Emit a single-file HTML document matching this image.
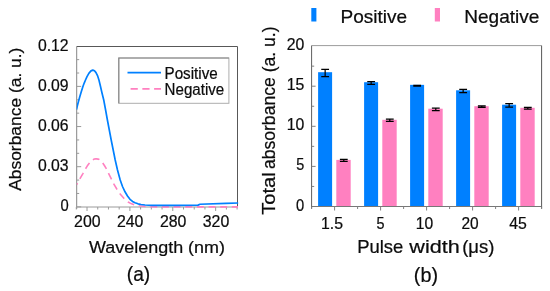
<!DOCTYPE html>
<html lang="en"><head><meta charset="utf-8"><title>Absorbance figure</title>
<style>
html,body{margin:0;padding:0;background:#fff;}
body{width:550px;height:291px;overflow:hidden;}
svg{display:block;}
text{font-family:"Liberation Sans",sans-serif;fill:#0c0c0c;stroke:#0c0c0c;stroke-width:0.22px;}
</style></head><body>
<svg width="550" height="291" viewBox="0 0 550 291">
<rect width="550" height="291" fill="#fff"/>

<clipPath id="ca"><rect x="76.7" y="46.5" width="161.8" height="162.0"/></clipPath>
<path d="M76.7,46.5 V209" fill="none" stroke="#858585" stroke-width="1"/>
<path d="M76.7,207 H237.5" fill="none" stroke="#9a9a9a" stroke-width="1"/>
<path d="M76.7,46.5 H237.5 V207" fill="none" stroke="#585858" stroke-width="1"/>
<path d="M76.7,206.85 h4.5 M76.7,193.47 h2.5 M76.7,180.08 h2.5 M76.7,166.70 h4.5 M76.7,153.32 h2.5 M76.7,139.94 h2.5 M76.7,126.55 h4.5 M76.7,113.17 h2.5 M76.7,99.79 h2.5 M76.7,86.40 h4.5 M76.7,73.02 h2.5 M76.7,59.64 h2.5 M76.30,207 v2.5 M87.02,207 v4 M97.74,207 v2.5 M108.46,207 v2.5 M119.18,207 v2.5 M129.90,207 v4 M140.62,207 v2.5 M151.34,207 v2.5 M162.06,207 v2.5 M172.78,207 v4 M183.50,207 v2.5 M194.22,207 v2.5 M204.94,207 v2.5 M215.66,207 v4 M226.38,207 v2.5 M237.10,207 v2.5" fill="none" stroke="#9a9a9a" stroke-width="1"/>
<g clip-path="url(#ca)" fill="none" stroke-linejoin="round">
<path d="M76.70,184.50 L78.00,182.20 L79.50,179.50 L81.00,176.90 L82.90,173.60 L84.20,171.20 L85.50,168.80 L87.20,166.10 L89.07,163.60 L90.80,161.50 L92.66,160.00 L94.30,159.00 L96.10,158.70 L98.00,159.10 L98.90,159.30 L100.70,160.80 L102.50,162.70 L104.40,165.50 L106.30,168.60 L108.40,173.10 L111.20,178.70 L113.50,183.50 L116.80,189.00 L119.70,193.50 L124.10,198.50 L128.10,202.00 L131.00,203.60 L134.40,204.80 L139.50,205.80 L145.40,206.50 L151.00,206.80 L160.00,206.90 L238.00,206.90" stroke="#FF80C0" stroke-width="1.6" stroke-dasharray="6.9 4.75" stroke-dashoffset="5.20"/>
<path d="M76.50,109.50 L77.30,106.00 L78.60,101.00 L80.00,96.00 L81.50,91.00 L83.10,86.00 L84.30,82.80 L85.50,80.00 L87.00,76.60 L89.00,73.10 L91.00,70.90 L92.80,70.10 L94.50,70.80 L96.00,72.60 L97.50,75.60 L98.95,80.00 L100.40,86.00 L102.00,93.00 L103.74,100.00 L105.60,110.00 L107.40,120.00 L109.30,130.00 L111.20,140.00 L113.20,150.00 L115.20,160.00 L117.50,170.00 L120.20,180.00 L122.50,186.50 L125.00,191.80 L127.50,196.00 L130.00,199.30 L132.50,201.40 L135.00,202.70 L138.00,203.80 L141.00,204.50 L145.00,205.00 L152.00,205.35 L175.00,205.30 L198.00,205.10 L200.00,204.25 L226.00,203.40 L238.30,203.00" stroke="#0080FF" stroke-width="1.7"/>
</g>
<text x="68.6" y="50.6" font-size="16.1" text-anchor="end" textLength="30.7" lengthAdjust="spacingAndGlyphs">0.12</text>
<text x="68.6" y="90.6" font-size="16.1" text-anchor="end" textLength="30.7" lengthAdjust="spacingAndGlyphs">0.09</text>
<text x="68.6" y="130.6" font-size="16.1" text-anchor="end" textLength="30.7" lengthAdjust="spacingAndGlyphs">0.06</text>
<text x="68.6" y="170.6" font-size="16.1" text-anchor="end" textLength="30.7" lengthAdjust="spacingAndGlyphs">0.03</text>
<text x="68.6" y="210.8" font-size="16.1" text-anchor="end" textLength="8.2" lengthAdjust="spacingAndGlyphs">0</text>
<text x="87.3" y="226.9" font-size="16.1" text-anchor="middle" textLength="26.5" lengthAdjust="spacingAndGlyphs">200</text>
<text x="130.2" y="226.9" font-size="16.1" text-anchor="middle" textLength="26.5" lengthAdjust="spacingAndGlyphs">240</text>
<text x="173.2" y="226.9" font-size="16.1" text-anchor="middle" textLength="26.5" lengthAdjust="spacingAndGlyphs">280</text>
<text x="216" y="226.9" font-size="16.1" text-anchor="middle" textLength="26.5" lengthAdjust="spacingAndGlyphs">320</text>
<text x="89" y="252.6" font-size="17.1" text-anchor="start" textLength="136" lengthAdjust="spacingAndGlyphs">Wavelength (nm)</text>
<text x="126.8" y="280.5" font-size="20.5" text-anchor="start" textLength="23.4" lengthAdjust="spacingAndGlyphs">(a)</text>
<text transform="translate(21.2,190.8) rotate(-90)" font-size="17.3" textLength="143.2" lengthAdjust="spacingAndGlyphs">Absorbance (a. u.)</text>
<rect x="118.8" y="58" width="110.1" height="45.3" fill="#fff" stroke="#adadad" stroke-width="1"/>
<path d="M118.8,103.3 V58 H228.9" fill="none" stroke="#858585" stroke-width="1.1"/>
<path d="M127.5,72.7 H161" stroke="#0080FF" stroke-width="1.8"/>
<path d="M130.6,88.9 H161" stroke="#FF80C0" stroke-width="1.6" stroke-dasharray="7.2 4.55"/>
<text x="164.5" y="78.6" font-size="16" text-anchor="start" textLength="53.2" lengthAdjust="spacingAndGlyphs">Positive</text>
<text x="164.6" y="94.6" font-size="16" text-anchor="start" textLength="59.6" lengthAdjust="spacingAndGlyphs">Negative</text>
<rect x="318.1" y="72.2" width="14" height="134.30" fill="#0080FF"/>
<rect x="336.3" y="159.9" width="14.4" height="46.60" fill="#FF80C0"/>
<path d="M321.25,69.4 h7.8 M321.25,76.5 h7.8 M325.15,69.4 V76.5" stroke="#000" stroke-width="1.25" fill="none"/>
<path d="M339.90,159.4 h7.8 M339.90,161.3 h7.8 M343.80,159.4 V161.3" stroke="#000" stroke-width="1.25" fill="none"/>
<rect x="364.1" y="82.2" width="14" height="124.30" fill="#0080FF"/>
<rect x="382.3" y="119.8" width="14.4" height="86.70" fill="#FF80C0"/>
<path d="M367.25,81.6 h7.8 M367.25,84.4 h7.8 M371.15,81.6 V84.4" stroke="#000" stroke-width="1.25" fill="none"/>
<path d="M385.90,119.1 h7.8 M385.90,121.3 h7.8 M389.80,119.1 V121.3" stroke="#000" stroke-width="1.25" fill="none"/>
<rect x="410.1" y="84.85" width="14" height="121.65" fill="#0080FF"/>
<rect x="428.3" y="108.7" width="14.4" height="97.80" fill="#FF80C0"/>
<path d="M413.25,85.4 h7.8 M413.25,86.2 h7.8 M417.15,85.4 V86.2" stroke="#000" stroke-width="1.25" fill="none"/>
<path d="M431.90,108.0 h7.8 M431.90,110.6 h7.8 M435.80,108.0 V110.6" stroke="#000" stroke-width="1.25" fill="none"/>
<rect x="456.1" y="90.3" width="14" height="116.20" fill="#0080FF"/>
<rect x="474.3" y="106.2" width="14.4" height="100.30" fill="#FF80C0"/>
<path d="M459.25,89.3 h7.8 M459.25,92.5 h7.8 M463.15,89.3 V92.5" stroke="#000" stroke-width="1.25" fill="none"/>
<path d="M477.90,105.9 h7.8 M477.90,107.3 h7.8 M481.80,105.9 V107.3" stroke="#000" stroke-width="1.25" fill="none"/>
<rect x="502.1" y="104.7" width="14" height="101.80" fill="#0080FF"/>
<rect x="520.3" y="107.8" width="14.4" height="98.70" fill="#FF80C0"/>
<path d="M505.25,103.7 h7.8 M505.25,107.0 h7.8 M509.15,103.7 V107.0" stroke="#000" stroke-width="1.25" fill="none"/>
<path d="M523.90,107.3 h7.8 M523.90,109.2 h7.8 M527.80,107.3 V109.2" stroke="#000" stroke-width="1.25" fill="none"/>
<path d="M311.6,45.6 H541.6" fill="none" stroke="#9c9c9c" stroke-width="1"/>
<path d="M311.6,206.5 H541.6" fill="none" stroke="#777" stroke-width="1"/>
<path d="M311.6,45.6 V208.5" fill="none" stroke="#5e5e5e" stroke-width="1"/>
<path d="M541.6,45.6 V208.5" fill="none" stroke="#585858" stroke-width="1"/>
<path d="M311.6,186.45 h2.6 M311.6,166.40 h4.0 M311.6,146.35 h2.6 M311.6,126.30 h4.0 M311.6,106.25 h2.6 M311.6,86.20 h4.0 M311.6,66.15 h2.6 M311.60,206.5 v2.5 M334.60,206.5 v4 M357.60,206.5 v2.5 M380.60,206.5 v4 M403.60,206.5 v2.5 M426.60,206.5 v4 M449.60,206.5 v2.5 M472.60,206.5 v4 M495.60,206.5 v2.5 M518.60,206.5 v4 M541.60,206.5 v2.5" fill="none" stroke="#808080" stroke-width="1"/>
<text x="304.3" y="49.8" font-size="16.1" text-anchor="end" textLength="17.6" lengthAdjust="spacingAndGlyphs">20</text>
<text x="304.3" y="89.9" font-size="16.1" text-anchor="end" textLength="17.6" lengthAdjust="spacingAndGlyphs">15</text>
<text x="304.3" y="130.0" font-size="16.1" text-anchor="end" textLength="17.6" lengthAdjust="spacingAndGlyphs">10</text>
<text x="304.3" y="170.2" font-size="16.1" text-anchor="end" textLength="8.0" lengthAdjust="spacingAndGlyphs">5</text>
<text x="304.3" y="210.6" font-size="16.1" text-anchor="end" textLength="8.2" lengthAdjust="spacingAndGlyphs">0</text>
<text x="332" y="229.3" font-size="16.1" text-anchor="middle" textLength="22" lengthAdjust="spacingAndGlyphs">1.5</text>
<text x="380.4" y="229.3" font-size="16.1" text-anchor="middle" textLength="8.0" lengthAdjust="spacingAndGlyphs">5</text>
<text x="424.4" y="229.3" font-size="16.1" text-anchor="middle" textLength="17.4" lengthAdjust="spacingAndGlyphs">10</text>
<text x="470" y="229.3" font-size="16.1" text-anchor="middle" textLength="17.2" lengthAdjust="spacingAndGlyphs">20</text>
<text x="518" y="229.3" font-size="16.1" text-anchor="middle" textLength="17.6" lengthAdjust="spacingAndGlyphs">45</text>
<text x="357.2" y="253.0" font-size="17.8" text-anchor="start" textLength="46.1" lengthAdjust="spacingAndGlyphs">Pulse</text>
<text x="409.3" y="253.0" font-size="17.8" text-anchor="start" textLength="50.4" lengthAdjust="spacingAndGlyphs">width</text>
<text x="462.2" y="253.0" font-size="17.8" text-anchor="start" textLength="32.2" lengthAdjust="spacingAndGlyphs">(μs)</text>
<text x="413.8" y="281.8" font-size="21" text-anchor="start" textLength="24.2" lengthAdjust="spacingAndGlyphs">(b)</text>
<g transform="translate(274.8,214.8) rotate(-90)" font-size="17.8"><text x="0" y="0" textLength="42.6" lengthAdjust="spacingAndGlyphs">Total</text><text x="45.7" y="0" textLength="142.7" lengthAdjust="spacingAndGlyphs">absorbance (a. u.)</text></g>
<rect x="311.3" y="8.0" width="5.1" height="13.5" fill="#0080FF"/>
<rect x="434.8" y="8.0" width="5.2" height="13.5" fill="#FF80C0"/>
<text x="340.6" y="22.8" font-size="18.4" text-anchor="start" textLength="66.6" lengthAdjust="spacingAndGlyphs">Positive</text>
<text x="464.2" y="23.0" font-size="18.4" text-anchor="start" textLength="75.2" lengthAdjust="spacingAndGlyphs">Negative</text>
</svg>
</body></html>
